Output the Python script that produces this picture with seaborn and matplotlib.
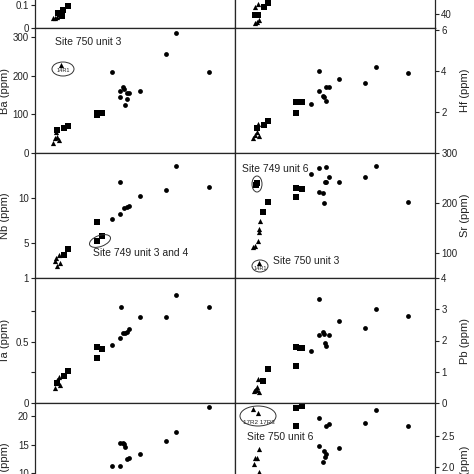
import numpy as np
import pandas as pd
import seaborn as sns
from matplotlib import pyplot as plt
from matplotlib.patches import Ellipse

sns.set_style("ticks")
plt.rcParams['font.family'] = ['Liberation Sans', 'DejaVu Sans']

# data per panel: (x list, y list) for triangles, squares, circles
top_l = {"tri": ([20, 22, 18], [0.043, 0.048, 0.043]),
         "sq": ([23, 25, 28, 33, 27], [0.065, 0.061, 0.078, 0.096, 0.052]),
         "ci": ([], [])}
top_r = {"tri": ([23, 20, 20, 22, 24], [47, 45, 33.6, 34, 35.7]),
         "sq": ([20, 23, 29, 33], [39, 39, 45, 48]),
         "ci": ([], [])}
ba = {"tri": ([18, 21, 22, 24, 20, 26], [26, 54, 41, 34, 39, 228]),
      "sq": ([22, 29, 33, 62, 63, 67, 62], [59, 64, 70, 98, 104, 104, 104]),
      "ci": ([77, 85, 85, 88, 89, 90, 92, 92, 94, 105, 131, 141, 174],
             [210, 160, 145, 170, 165, 125, 140, 155, 155, 160, 255, 310, 210])}
hf = {"tri": ([18, 23, 22, 20, 24], [0.73, 1.41, 1.02, 0.88, 0.83]),
      "sq": ([22, 29, 33, 61, 61, 65, 67], [1.22, 1.37, 1.56, 1.95, 2.49, 2.49, 2.49]),
      "ci": ([76, 84, 84, 88, 89, 91, 91, 94, 104, 130, 141, 173],
             [2.39, 4.0, 3.02, 2.78, 2.73, 2.54, 3.22, 3.22, 3.6, 3.41, 4.2, 3.9])}
nb = {"tri": ([20, 22, 24, 25, 21], [2.9, 2.3, 3.6, 2.7, 3.2]),
      "sq": ([29, 33, 62, 62, 67], [3.6, 4.3, 7.3, 5.2, 5.7]),
      "ci": ([77, 85, 85, 89, 92, 94, 105, 131, 141, 174],
             [7.7, 8.2, 11.8, 8.9, 9.0, 9.1, 10.2, 10.9, 13.6, 11.3])}
sr = {"tri": ([18, 20, 23, 24, 24, 25, 24], [112, 114, 124, 142, 148, 164, 80]),
      "sq": ([21, 22, 28, 33, 61, 61, 67], [236, 240, 182, 202, 230, 212, 228]),
      "ci": ([76, 84, 84, 88, 89, 90, 91, 91, 94, 104, 130, 141, 173],
             [258, 270, 222, 220, 200, 242, 272, 242, 252, 242, 252, 274, 202])}
ta = {"tri": ([20, 22, 24, 25, 21], [0.12, 0.19, 0.21, 0.15, 0.16]),
      "sq": ([62, 67, 62, 29, 33, 22], [0.46, 0.44, 0.37, 0.22, 0.26, 0.16]),
      "ci": ([141, 86, 105, 131, 174, 77, 85, 88, 90, 92, 94],
             [0.88, 0.78, 0.70, 0.70, 0.78, 0.47, 0.53, 0.57, 0.57, 0.58, 0.60])}
pb = {"tri": ([23, 20, 22, 24, 19, 22], [0.78, 0.42, 0.42, 0.36, 0.39, 0.52]),
      "sq": ([61, 65, 67, 61, 33, 28], [1.79, 1.76, 1.76, 1.2, 1.1, 0.72]),
      "ci": ([84, 141, 173, 104, 130, 84, 88, 89, 94, 90, 91, 76],
             [3.32, 3.0, 2.8, 2.64, 2.41, 2.18, 2.28, 2.21, 2.18, 1.92, 1.82, 1.66])}
bot_l = {"tri": ([], []), "sq": ([], []),
         "ci": ([174, 141, 131, 85, 88, 90, 89, 105, 92, 94, 77, 85],
                [21.6, 17.2, 15.6, 15.3, 15.3, 14.6, 15.1, 13.3, 12.5, 12.6, 11.2, 11.2])}
bot_r = {"tri": ([18, 23, 24, 20, 22, 19, 24], [2.94, 2.87, 2.29, 2.14, 2.14, 2.05, 1.92]),
         "sq": ([61, 67, 61], [2.95, 2.98, 2.66]),
         "ci": ([84, 91, 94, 141, 130, 173, 84, 89, 90, 91, 88, 104],
                [2.79, 2.66, 2.69, 2.92, 2.71, 2.66, 2.34, 2.26, 2.16, 2.21, 2.08, 2.31])}

panels = [
    # data, row, col, ylabel, ylim, ticks, labelled ticks
    (top_l, 0, 0, "", (0, 0.54), [0, 0.1, 0.2, 0.3, 0.4, 0.5], ["0", "0.1", "", "", "", ""]),
    (top_r, 0, 1, "", (30, 119), [40, 60, 80, 100], ["40", "", "", ""]),
    (ba, 1, 0, "Ba (ppm)", (0, 323), [0, 100, 200, 300], ["0", "100", "200", "300"]),
    (hf, 1, 1, "Hf (ppm)", (0, 6.1), [2, 4, 6], ["2", "4", "6"]),
    (nb, 2, 0, "Nb (ppm)", (1, 15.1), [1, 5, 10], ["1", "5", "10"]),
    (sr, 2, 1, "Sr (ppm)", (50, 300), [100, 200, 300], ["100", "200", "300"]),
    (ta, 3, 0, "Ta (ppm)", (0, 1.02), [0, 0.25, 0.5, 0.75], ["0", "", "0.5", ""]),
    (pb, 3, 1, "Pb (ppm)", (0, 4), [0, 1, 2, 3, 4], ["0", "1", "2", "3", "4"]),
    (bot_l, 4, 0, "Rb (ppm)", (0.4, 22.3), [10, 15, 20], ["10", "15", "20"]),
    (bot_r, 4, 1, "U (ppm)", (1.01, 3.03), [2.0, 2.5], ["2.0", "2.5"]),
]

W = 474.0
fig = plt.figure(figsize=(4.74, 4.74), dpi=100)
markers = {"tri": "^", "sq": "s", "ci": "o"}
sizes = {"tri": 14, "sq": 22, "ci": 12}

for data, row, col, ylab, ylim, ticks, tlabels in panels:
    x0 = 35 + 200 * col
    ytop = 28 + 125 * (row - 1)
    ax = fig.add_axes([x0 / W, 1 - (ytop + 125) / W, 200 / W, 125 / W])
    for k in ["tri", "sq", "ci"]:
        xs, ys = data[k]
        if xs:
            df = pd.DataFrame({"x": xs, "y": ys})
            sns.scatterplot(data=df, x="x", y="y", marker=markers[k], s=sizes[k],
                            color="black", edgecolor="black", linewidth=0, ax=ax)
    ax.set_xlim(0, 200)
    ax.set_ylim(*ylim)
    ax.set_xticks([40, 80, 120, 160])
    ax.set_xticklabels([])
    ax.set_yticks(ticks)
    ax.set_yticklabels(tlabels)
    ax.set_xlabel("")
    ax.set_ylabel(ylab, fontsize=8, color="#222222")
    ax.tick_params(length=3, width=0.8, labelsize=7, colors="#222222", pad=1.5)
    if col == 1:
        ax.yaxis.tick_right()
        ax.yaxis.set_label_position("right")
        ax.yaxis.set_label_coords(1.125, 0.5)
    else:
        ax.yaxis.set_label_coords(-0.125, 0.5)
    for s in ax.spines.values():
        s.set_linewidth(0.9)
        s.set_visible(True)


def fx(x):
    return x / W


def fy(y):
    return 1 - y / W


def ell(x, y, w, h, angle=0):
    fig.add_artist(Ellipse((fx(x), fy(y)), w / W, h / W, angle=angle, fill=False,
                           lw=0.7, color="#333333", transform=fig.transFigure))


def txt(x, y, s, size=7.5, ha="left"):
    fig.text(fx(x), fy(y), s, fontsize=size, ha=ha, va="center", color="#222222")


txt(55, 42, "Site 750 unit 3")
ell(63, 69, 22, 14)
txt(63, 71, "14R1", size=4, ha="center")
ell(100, 241, 22, 11, angle=20)
txt(93, 253, "Site 749 unit 3 and 4")
txt(242, 169, "Site 749 unit 6")
ell(257, 184, 10, 16)
txt(273, 261, "Site 750 unit 3")
ell(260, 266, 16, 12)
txt(260, 268, "14R1", size=4, ha="center")
ell(258, 416, 36, 20)
txt(259, 422, "17R2 17R3", size=4.5, ha="center")
txt(247, 437, "Site 750 unit 6")

fig.savefig("out.png", dpi=100)
